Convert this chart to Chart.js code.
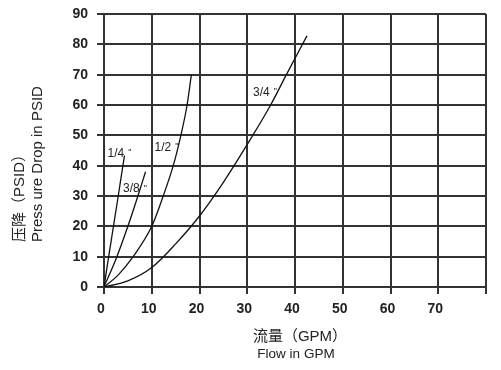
<!DOCTYPE html>
<html>
<head>
<meta charset="utf-8">
<script src="https://cdn.jsdelivr.net/npm/chart.js@4.4.1/dist/chart.umd.min.js"></script>
<style>
    html, body { margin: 0; padding: 0; background: #fff; }
    #wrap { width: 501px; height: 370px; }
</style>
</head>
<body>
<div id="wrap"><canvas id="flowChart"></canvas></div>
<script>
// Flow (GPM) against pressure drop (PSID)
const xTickLabels = ['0', '10', '20', '30', '40', '50', '60', '70'];
const yTickLabels = ['0', '10', '20', '30', '40', '50', '60', '70', '80', '90'];

const sizeNames = ['1/4', '3/8', '1/2', '3/4'];

const quarterFlow = [0, 0.98, 1.98, 2.98, 3.96, 4.3];
const quarterPsid = [0, 10, 20, 30, 40, 43.3];

const threeEighthFlow = [0, 2.7, 5.0, 7.1, 8.7];
const threeEighthPsid = [0, 10, 20, 30, 38];

const halfFlow = [0, 3, 6.1, 10.0, 12.4, 14.5, 16.1, 17.4, 18.3];
const halfPsid = [0, 4, 10, 20, 30, 40, 50, 60, 70];

const threeQuarterFlow = [0, 5, 10, 15, 20, 25, 30, 34.9, 38.2, 42.5];
const threeQuarterPsid = [0, 2, 6.4, 14.2, 23.4, 34.5, 47, 60, 70, 82.8];

const toPoints = (flow, psid) => flow.map((f, i) => ({ x: f, y: psid[i] }));

const curves = [
    toPoints(quarterFlow, quarterPsid),
    toPoints(threeEighthFlow, threeEighthPsid),
    toPoints(halfFlow, halfPsid),
    toPoints(threeQuarterFlow, threeQuarterPsid)
];

const latin = '"Liberation Sans", Arial, "Noto Sans CJK SC", sans-serif';

// size tags next to each curve, anchored in data units
const curveLabels = {
    id: 'curveLabels',
    anchors: [[0.75, 44], [4.0, 32.3], [10.6, 46], [31.2, 64]],
    afterDatasetsDraw(chart) {
        const { ctx, scales: { x, y } } = chart;
        ctx.save();
        ctx.fillStyle = '#222';
        ctx.textBaseline = 'middle';
        ctx.textAlign = 'left';
        sizeNames.forEach((name, i) => {
            const px = x.getPixelForValue(this.anchors[i][0]);
            const py = y.getPixelForValue(this.anchors[i][1]);
            ctx.font = '12px ' + latin;
            ctx.fillText(name, px, py);
            const w = ctx.measureText(name).width;
            ctx.font = '9px ' + latin;
            ctx.fillText('"', px + w + 4, py - 1);
        });
        ctx.restore();
    }
};

// two-line axis titles as on the sheet
const axisTitles = {
    id: 'axisTitles',
    afterDraw(chart) {
        const { ctx, chartArea } = chart;
        ctx.save();
        ctx.fillStyle = '#222';
        ctx.textBaseline = 'middle';

        ctx.save();
        ctx.translate(20, chartArea.bottom - 45);
        ctx.rotate(-Math.PI / 2);
        ctx.textAlign = 'left';
        ctx.font = '15px ' + latin;
        ctx.fillText('压降（PSID）', 0, 0);
        ctx.fillText('Press ure Drop in PSID', 0, 18);
        ctx.restore();

        const cx = (chartArea.left + chartArea.right) / 2 + 5;
        ctx.textAlign = 'center';
        ctx.font = '15px ' + latin;
        ctx.fillText('流量（GPM）', cx, chartArea.bottom + 50);
        ctx.font = '13.5px ' + latin;
        ctx.fillText('Flow in GPM', cx - 4, chartArea.bottom + 67);
        ctx.restore();
    }
};

new Chart(document.getElementById('flowChart'), {
    type: 'line',
    data: {
        datasets: curves.map((pts, i) => ({
            label: sizeNames[i],
            data: pts,
            borderColor: '#111',
            borderWidth: 1.3,
            pointRadius: 0,
            fill: false,
            cubicInterpolationMode: 'monotone'
        }))
    },
    options: {
        responsive: true,
        maintainAspectRatio: false,
        animation: false,
        layout: { padding: { top: 14, right: 15, left: 0, bottom: 0 } },
        plugins: {
            legend: { display: false },
            tooltip: { enabled: false }
        },
        scales: {
            x: {
                type: 'linear',
                min: 0,
                max: 80,
                afterFit: s => { s.height = 83; s.paddingLeft = 0; s.paddingRight = 0; },
                ticks: {
                    stepSize: 10,
                    color: '#222',
                    padding: 7,
                    labelOffset: -3,
                    maxRotation: 0,
                    font: { family: latin, size: 14, weight: 'bold' },
                    callback: (v, i) => xTickLabels[i] ?? ''
                },
                grid: { color: '#333', lineWidth: 2, tickLength: 7 },
                border: { color: '#333', width: 2 }
            },
            y: {
                min: 0,
                max: 90,
                afterFit: s => { s.width = 104; s.paddingTop = 0; s.paddingBottom = 0; },
                ticks: {
                    stepSize: 10,
                    color: '#222',
                    padding: 9,
                    font: { family: latin, size: 14, weight: 'bold' },
                    callback: (v, i) => yTickLabels[i] ?? ''
                },
                grid: { color: '#333', lineWidth: 2, tickLength: 7 },
                border: { color: '#333', width: 2 }
            }
        }
    },
    plugins: [curveLabels, axisTitles]
});
</script>
</body>
</html>
